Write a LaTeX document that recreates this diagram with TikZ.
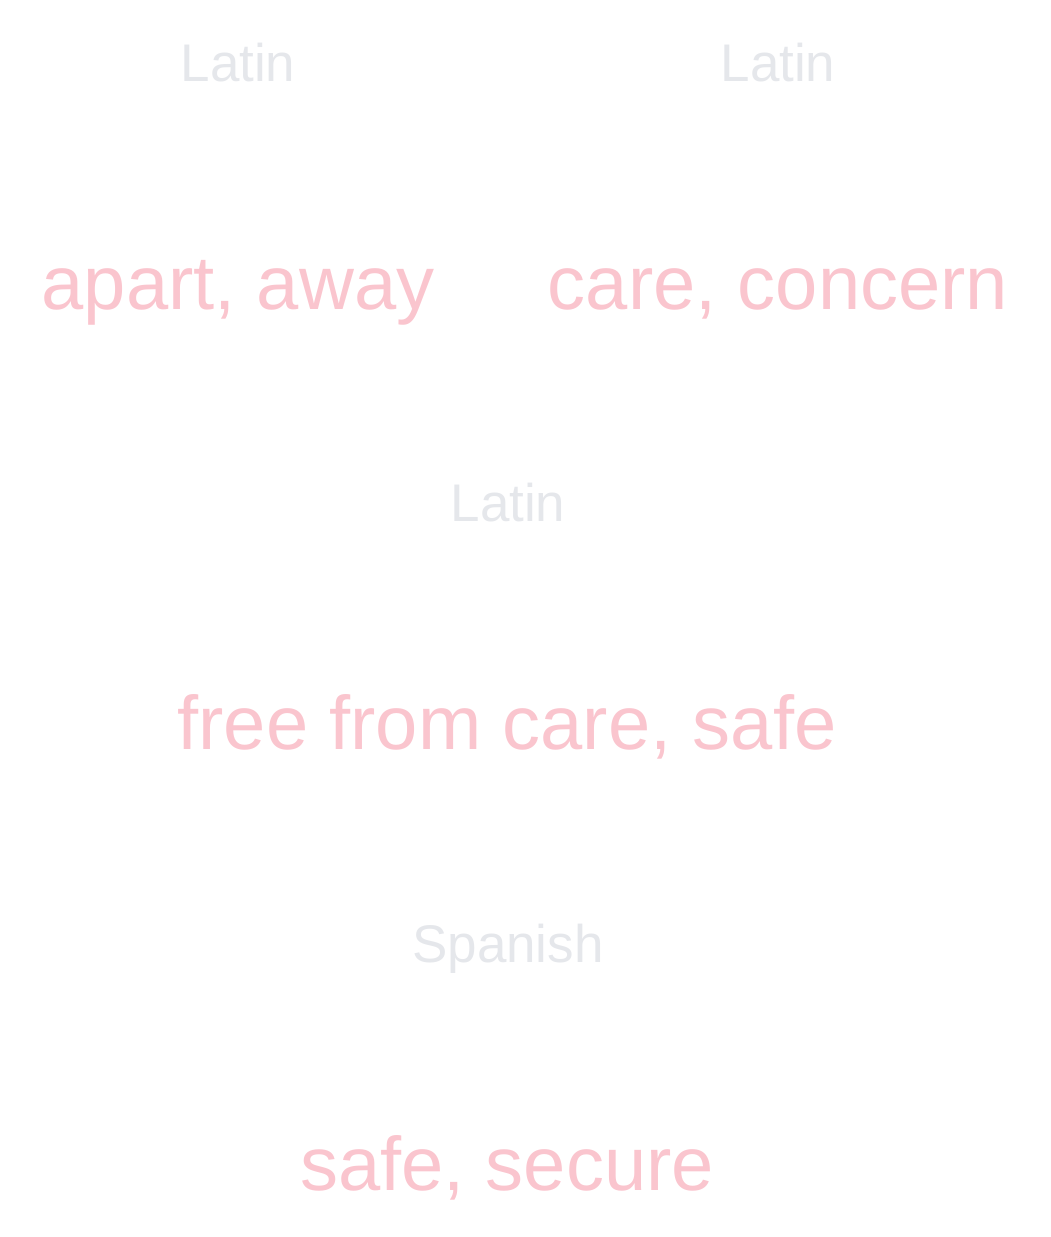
\documentclass[tikz,border=0pt]{standalone}
\usepackage{fontspec}
\setmainfont{Liberation Sans}
\definecolor{langgray}{RGB}{229,231,235}
\definecolor{glosspink}{RGB}{250,197,206}
\tikzset{every picture/.style={line width=0.75pt}}
\tikzset{
  langlabel/.style={anchor=base, inner sep=0pt, text=langgray, font=\fontsize{39.75}{40}\selectfont},
  glosslabel/.style={anchor=base, inner sep=0pt, text=glosspink, font=\fontsize{57}{57}\selectfont}
}
\begin{document}
\begin{tikzpicture}[x=0.75pt,y=0.75pt,yscale=-1,xscale=1]
%set diagram left start at 0, and has height of 1237
\useasboundingbox (0,0) rectangle (1050,1237);

% Text Node
\node [langlabel] (latSe) at (238,82) {Latin};
% Text Node
\node [langlabel] (latCura) at (778,82) {Latin};
% Text Node
\node [glosslabel] (glossSe) at (238,310) {apart, away};
% Text Node
\node [glosslabel] (glossCura) at (778,310) {care, concern};

% Text Node
\node [langlabel] (latSecurus) at (508,521) {Latin};
% Text Node
\node [glosslabel] (glossSecurus) at (507,749) {free from care, safe};

% Text Node
\node [langlabel] (spaSeguro) at (508,962) {Spanish};
% Text Node
\node [glosslabel] (glossSeguro) at (507,1190) {safe, secure};

\end{tikzpicture}
\end{document}
